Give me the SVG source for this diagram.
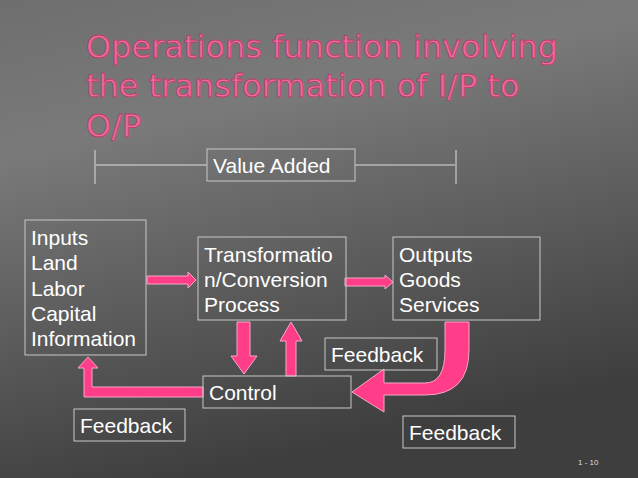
<svg xmlns="http://www.w3.org/2000/svg" width="638" height="478" viewBox="0 0 638 478">
<defs>
<linearGradient id="bg" x1="0" y1="0" x2="0.3" y2="1">
<stop offset="0" stop-color="#6e6e6e"/><stop offset="0.3" stop-color="#7a7a7a"/><stop offset="1" stop-color="#3e3e3e"/>
</linearGradient>
<style>
.t{font-family:"Liberation Sans",Arial,sans-serif;font-size:21px;fill:#fff}
.box{fill:none;stroke:#c8c8c8;stroke-width:1}
.arr{fill:#ff3d88;stroke:#f7a8c8;stroke-width:1}
.title{font-family:"DejaVu Sans","Noto Sans",sans-serif;font-size:32px;fill:#f06a9c;stroke:#b83d6c;stroke-width:0.8}
</style>
</defs>
<rect width="638" height="478" fill="url(#bg)"/>
<g id="title"><text class="title" x="86" y="58">Operations function involving</text>
<text class="title" x="86" y="97">the transformation of I/P to</text>
<text class="title" x="86" y="137">O/P</text></g>
<g id="valueadded">
<line x1="95" y1="150" x2="95" y2="184" stroke="#ddd"/>
<line x1="456" y1="150" x2="456" y2="184" stroke="#ddd"/>
<line x1="96" y1="165" x2="207" y2="165" stroke="#ddd"/>
<line x1="355" y1="165" x2="455" y2="165" stroke="#ddd"/>
<rect class="box" x="207" y="149" width="148" height="32"/>
<text class="t" x="213" y="173">Value Added</text></g>
<g id="connectors">
<path class="arr" d="M147,276 H188 V272 L196,280 L188,288 V284 H147 Z"/>
<path class="arr" d="M345,278 H385 V275 L393,282 L385,289 V286 H345 Z"/>
<path class="arr" d="M237,322 H250 V356 H257 L244,374 L231,356 H237 Z"/>
<path class="arr" d="M286,376 V341 H280 L291,322 L302,341 H296 V376 Z"/>
<path class="arr" d="M203,387 V397 H84 V368 H78 L88,357 L98,368 H92 V387 Z"/>
<path class="arr" d="M445,322 H469 V350 Q469,395 425,395 H384 V412 L352,392 L384,369 V383 H425 Q445,383 445,350 Z"/>
</g>
<g id="inputs"><rect class="box" x="25" y="220" width="121" height="135"/>
<text class="t" x="31" y="245">Inputs</text><text class="t" x="31" y="270">Land</text><text class="t" x="31" y="296">Labor</text><text class="t" x="31" y="321">Capital</text><text class="t" x="31" y="346">Information</text></g>
<g id="transformation"><rect class="box" x="198" y="237" width="148" height="83"/>
<text class="t" x="204" y="262">Transformatio</text><text class="t" x="204" y="287">n/Conversion</text><text class="t" x="204" y="312">Process</text></g>
<g id="outputs"><rect class="box" x="393" y="237" width="147" height="83"/>
<text class="t" x="399" y="262">Outputs</text><text class="t" x="399" y="287">Goods</text><text class="t" x="399" y="312">Services</text></g>
<g id="feedback1"><rect class="box" x="325" y="338" width="112" height="32"/><text class="t" x="331" y="362">Feedback</text></g>
<g id="control"><rect class="box" x="203" y="376" width="148" height="32"/><text class="t" x="209" y="400">Control</text></g>
<g id="feedback2"><rect class="box" x="74" y="409" width="111" height="32"/><text class="t" x="80" y="433">Feedback</text></g>
<g id="feedback3"><rect class="box" x="403" y="416" width="112" height="32"/><text class="t" x="409" y="440">Feedback</text></g>
<text x="578" y="465" font-family="Liberation Sans,Arial,sans-serif" font-size="8" fill="#ddd">1 - 10</text>
</svg>
